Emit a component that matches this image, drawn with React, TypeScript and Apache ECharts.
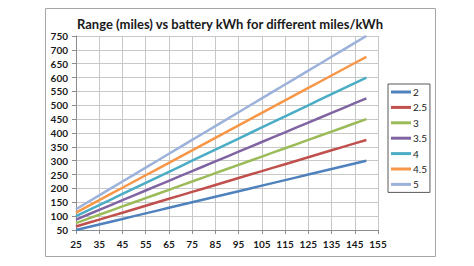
import React, { useEffect, useRef } from "react";
import * as echarts from "echarts";

// Battery capacity (kWh) along the x axis; 155 is only an axis slot
const kwh = ["25","30","35","40","45","50","55","60","65","70","75","80","85","90","95","100","105","110","115","120","125","130","135","140","145","150","155"];

// Range in miles for each efficiency (miles/kWh)
const range2 = [50,60,70,80,90,100,110,120,130,140,150,160,170,180,190,200,210,220,230,240,250,260,270,280,290,300];
const range25 = [62.5,75,87.5,100,112.5,125,137.5,150,162.5,175,187.5,200,212.5,225,237.5,250,262.5,275,287.5,300,312.5,325,337.5,350,362.5,375];
const range3 = [75,90,105,120,135,150,165,180,195,210,225,240,255,270,285,300,315,330,345,360,375,390,405,420,435,450];
const range35 = [87.5,105,122.5,140,157.5,175,192.5,210,227.5,245,262.5,280,297.5,315,332.5,350,367.5,385,402.5,420,437.5,455,472.5,490,507.5,525];
const range4 = [100,120,140,160,180,200,220,240,260,280,300,320,340,360,380,400,420,440,460,480,500,520,540,560,580,600];
const range45 = [112.5,135,157.5,180,202.5,225,247.5,270,292.5,315,337.5,360,382.5,405,427.5,450,472.5,495,517.5,540,562.5,585,607.5,630,652.5,675];
const range5 = [125,150,175,200,225,250,275,300,325,350,375,400,425,450,475,500,525,550,575,600,625,650,675,700,725,750];

const seriesNames = ["2", "2.5", "3", "3.5", "4", "4.5", "5"];
const seriesData = [range2, range25, range3, range35, range4, range45, range5];
const colors = ["#4F81BD", "#C0504D", "#9BBB59", "#8064A2", "#4BACC6", "#F79646", "#9CB2DA"];

const FONT = "Lato, 'Open Sans', sans-serif";

export default function App() {
  const ref = useRef<HTMLDivElement>(null);

  useEffect(() => {
    if (!ref.current) return;
    const chart = echarts.init(ref.current, undefined, { renderer: "svg" });
    chart.setOption({
      animation: false,
      backgroundColor: "#ffffff",
      color: colors,
      textStyle: { fontFamily: FONT },
      graphic: [
        {
          type: "rect",
          shape: { x: 45.5, y: 8.5, width: 390, height: 248 },
          style: { fill: "none", stroke: "#a6a6a6", lineWidth: 1 },
          silent: true,
        },
      ],
      title: {
        text: "Range (miles) vs battery kWh for different miles/kWh",
        left: 225,
        textAlign: "center",
        top: 12,
        textStyle: { fontFamily: FONT, fontWeight: "bold", fontSize: 13, color: "#1a1a1a" },
      },
      legend: {
        orient: "vertical",
        left: 388,
        top: 84,
        padding: [3, 3, 3, 3],
        itemGap: 5.4,
        itemWidth: 20,
        itemHeight: 3,
        icon: "rect",
        borderColor: "#595959",
        borderWidth: 1,
        data: seriesNames,
        textStyle: { fontFamily: FONT, fontSize: 10, color: "#222", padding: [0, 0, 0, -3] },
      },
      grid: { left: 76, right: 96, top: 36, bottom: 36, containLabel: false },
      xAxis: {
        type: "category",
        data: kwh,
        boundaryGap: false,
        axisLine: { lineStyle: { color: "#8c8c8c" } },
        axisTick: { interval: 1, length: 4, lineStyle: { color: "#8c8c8c" } },
        axisLabel: { interval: 1, margin: 9, fontFamily: FONT, fontWeight: "bold", fontSize: 10, color: "#1a1a1a" },
        splitLine: { show: true, interval: 1, lineStyle: { color: "#c8c8c8" } },
      },
      yAxis: {
        type: "value",
        min: 50,
        max: 750,
        interval: 50,
        axisLine: { show: true, lineStyle: { color: "#8c8c8c" } },
        axisTick: { show: true, length: 4, lineStyle: { color: "#8c8c8c" } },
        axisLabel: { margin: 8, fontFamily: FONT, fontWeight: "bold", fontSize: 10, color: "#1a1a1a" },
        splitLine: { show: true, lineStyle: { color: "#c8c8c8" } },
      },
      series: seriesNames.map((name, i) => ({
        name,
        type: "line",
        data: seriesData[i],
        showSymbol: false,
        symbol: "none",
        lineStyle: { width: 2.5, color: colors[i] },
        itemStyle: { color: colors[i] },
      })),
    });
    return () => chart.dispose();
  }, []);

  return (
    <div
      ref={ref}
      style={{ position: "fixed", left: 0, top: 0, width: 474, height: 266 }}
    />
  );
}
